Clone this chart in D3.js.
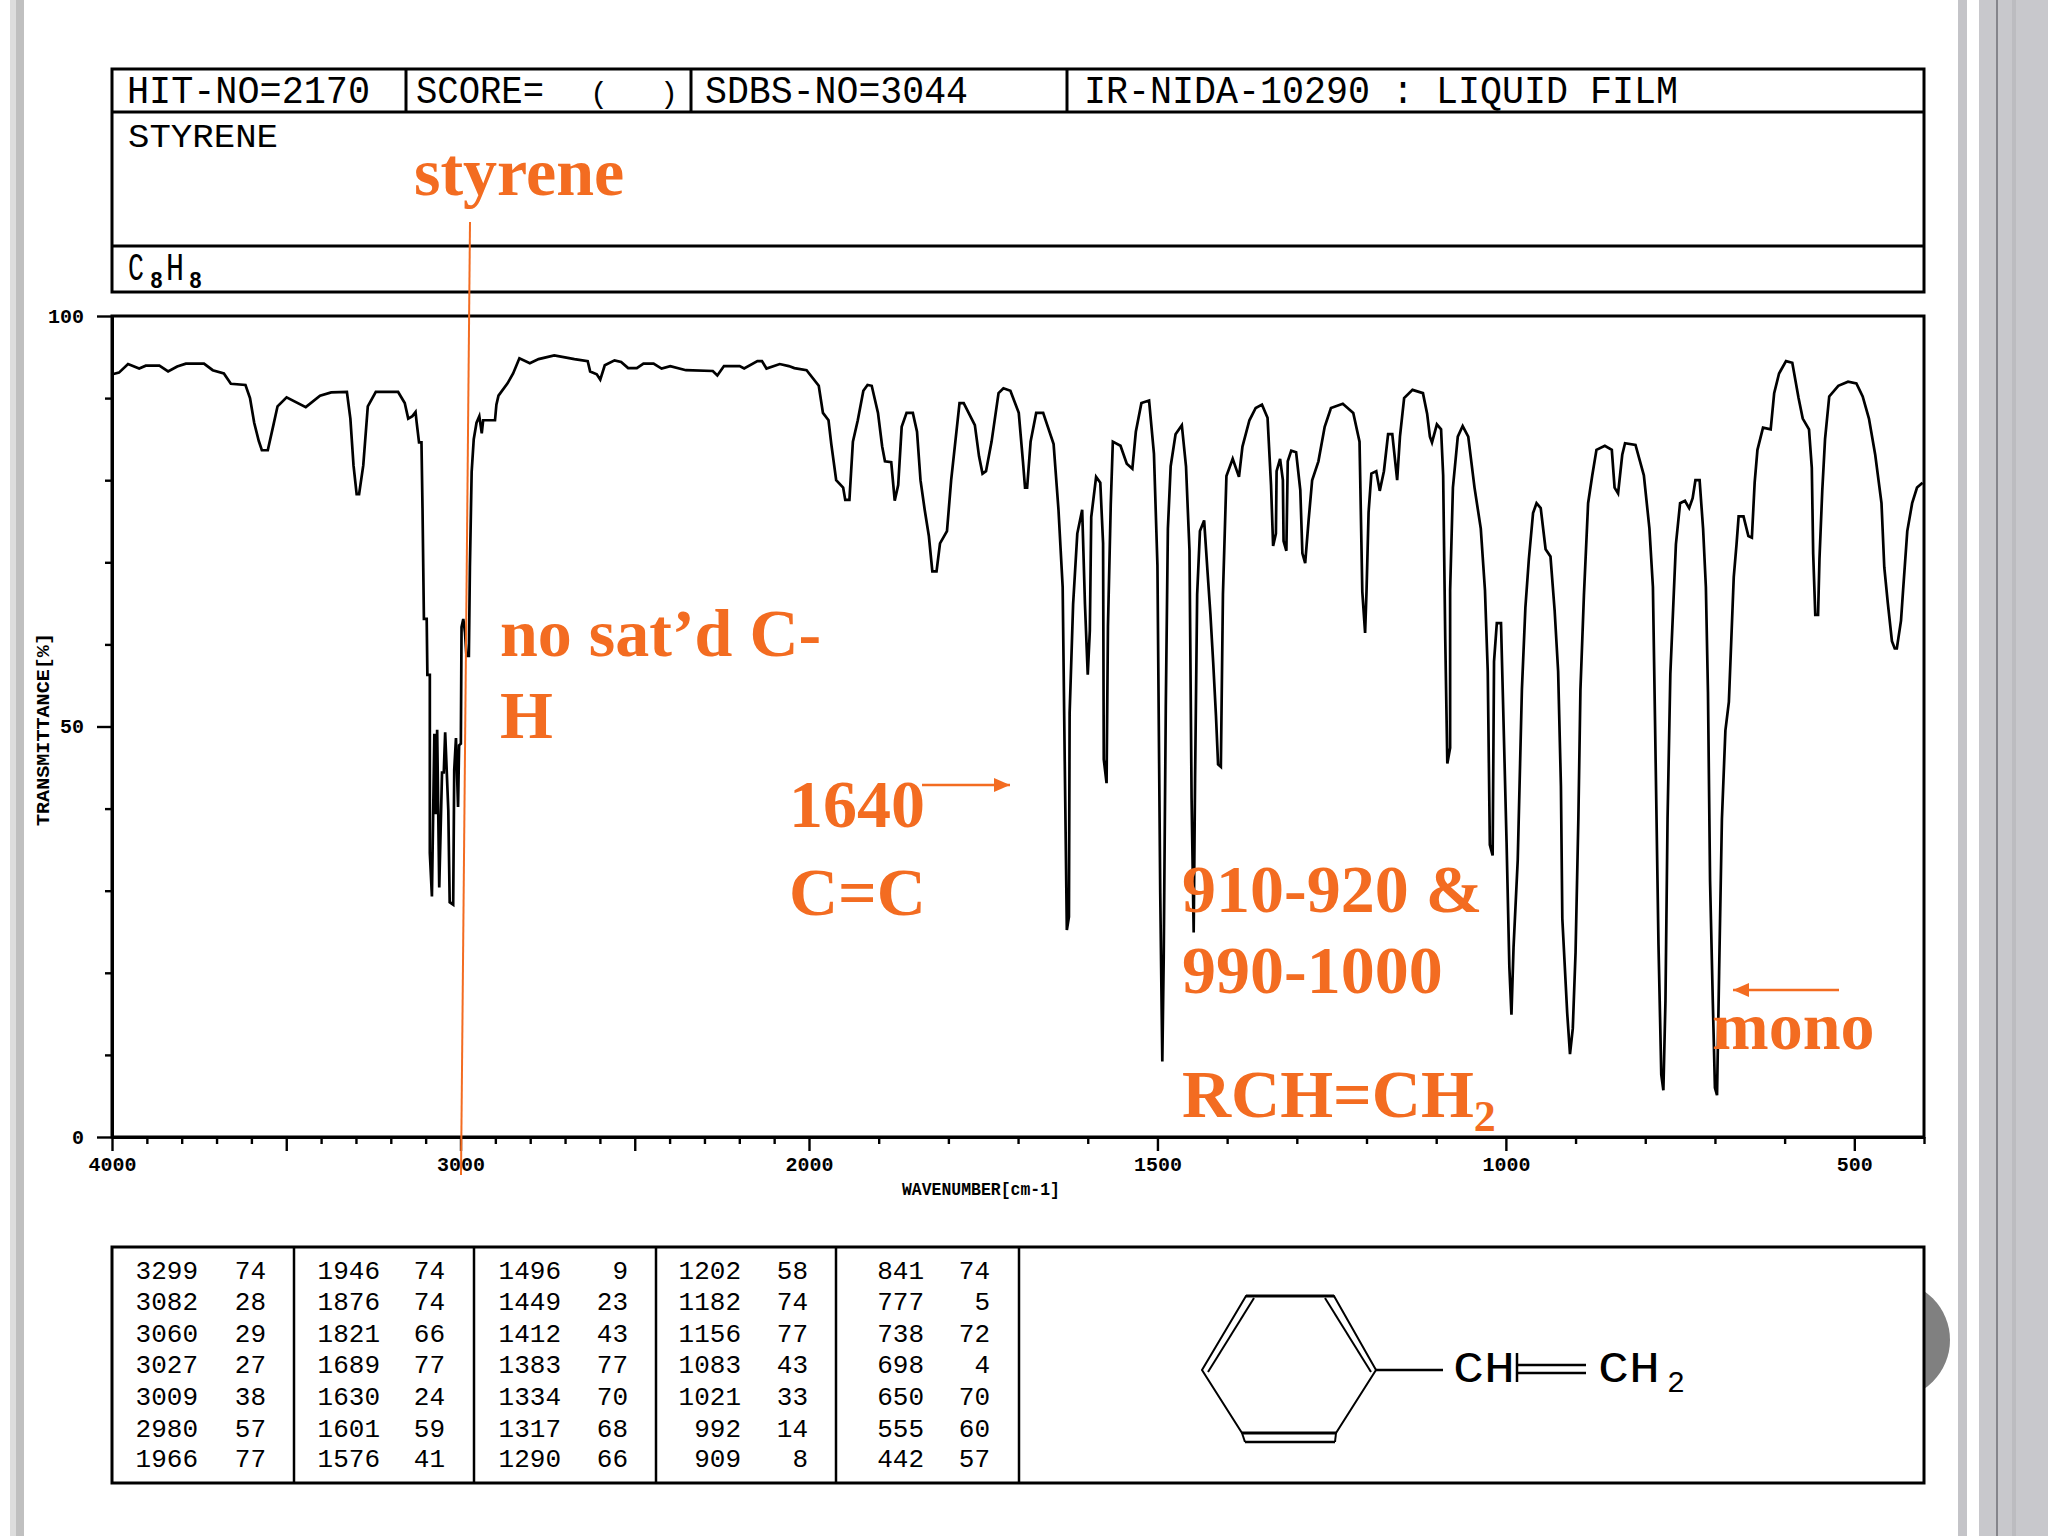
<!DOCTYPE html>
<html><head><meta charset="utf-8">
<script src="https://cdn.jsdelivr.net/npm/d3@7"></script>
<style>html,body{margin:0;padding:0;background:#fff}svg{display:block}
.mono{font-family:"Liberation Mono",monospace;fill:#000}
.note{font-family:"Liberation Serif",serif;font-weight:700;fill:#F36C21;font-size:68px}
</style></head><body><svg id="c" width="2048" height="1536"></svg>
<script>
const wavenumbers=[3999,3980,3954,3922,3903,3864,3839,3813,3788,3736,3711,3679,3659,3617,3604,3592,3579,3570,3553,3538,3525,3499,3444,3403,3371,3326,3316,3307,3298,3291,3279,3266,3243,3179,3160,3150,3138,3129,3126,3119,3112,3109,3105,3097,3095,3088,3088,3082,3075,3071,3067,3061,3053,3048,3044,3035,3031,3021,3018,3013,3007,3004,2999,2997,2992,2987,2983,2976,2973,2968,2962,2954,2946,2939,2935,2901,2897,2891,2865,2849,2831,2801,2776,2731,2673,2635,2628,2609,2599,2586,2558,2539,2519,2494,2475,2446,2423,2398,2353,2276,2263,2244,2199,2186,2148,2135,2122,2084,2058,2042,2007,1986,1980,1972,1968,1961,1951,1948,1942,1937,1930,1922,1916,1910,1901,1895,1891,1882,1877,1872,1867,1860,1851,1845,1840,1834,1828,1823,1817,1812,1802,1796,1790,1784,1778,1762,1756,1751,1746,1738,1728,1721,1711,1699,1693,1690,1687,1682,1674,1664,1649,1642,1636,1633,1630,1627,1626,1621,1615,1608,1604,1600,1597,1595,1588,1582,1578,1577,1573,1571,1567,1564,1553,1544,1536,1531,1523,1512,1505,1500,1496,1493,1491,1488,1485,1481,1474,1465,1459,1454,1451,1448,1446,1443,1439,1433,1428,1424,1420,1416,1413,1409,1406,1401,1392,1383,1378,1368,1359,1350,1342,1337,1334,1330,1329,1324,1320,1319,1315,1313,1308,1301,1295,1292,1288,1283,1278,1269,1260,1251,1234,1219,1210,1206,1202,1200,1197,1193,1186,1181,1175,1169,1163,1156,1152,1146,1134,1119,1113,1109,1106,1099,1093,1090,1087,1084,1080,1080,1076,1069,1062,1054,1045,1036,1030,1026,1023,1019,1017,1013,1007,1004,999,995,992,989,983,977,972,967,961,956,950,943,936,930,925,921,919,912,908,904,900,896,893,888,882,876,870,858,848,844,839,833,829,814,802,794,789,786,781,777,774,771,768,764,759,756,750,743,737,732,728,722,717,713,710,707,703,700,697,694,690,685,680,676,673,669,666,659,652,647,643,639,631,620,615,608,598,589,580,574,565,561,559,556,552,550,546,542,536,523,509,497,488,479,470,461,457,452,446,442,439,433,430,424,417,410,402];
const transmittance=[92.9,93.1,94.15,93.6,93.95,93.95,93.25,93.85,94.2,94.2,93.4,93,91.75,91.6,90,87,84.8,83.65,83.65,86.5,89,90.1,88.9,90.3,90.7,90.75,87.5,81.8,78.3,78.3,81.8,89,90.75,90.75,89.4,87.5,87.8,88.3,87.1,84.6,84.6,76.6,63.1,63.1,56.3,56.3,34.6,29.3,49.1,39.3,49.6,30.4,44.4,44.4,49.3,39.8,28.6,28.3,44.7,48.6,40.2,47.7,47.9,62.1,63.1,61.4,58.6,58.6,69.4,81,85,87,87.8,85.7,87.3,87.3,89.2,90.3,91.8,93,94.85,94.25,94.75,95.2,94.75,94.5,93.25,92.9,92.25,94,94.6,94.4,93.65,93.65,94.2,94.2,93.6,93.9,93.4,93.3,92.75,93.9,93.9,93.6,94.5,94.5,93.6,94.15,93.9,93.65,93.4,91.5,88.2,87.3,84.4,80,79.1,77.6,77.6,84.7,87.3,90.9,91.6,91.5,88.2,84.1,82.3,82.2,77.5,79.4,86.5,88.2,88.2,85.9,80,76.4,73.2,68.9,68.9,72.3,73.8,80,84.7,89.4,89.4,86.7,82.9,80.8,81.1,84.7,90.6,91.2,90.9,88.2,82.3,79.1,79.1,84.7,88.2,88.2,84.4,76.4,67,45.7,25.2,26.8,51.6,64.9,73.5,76.4,64.9,56.3,61.7,75.5,80.4,79.7,72.3,46,43.1,62.2,77,84.7,84.2,82,81.4,85.9,89.4,89.7,83.2,69.6,29.8,9.2,21.8,52.5,74.1,81.7,85.6,86.7,81.7,71.4,41.3,24.9,43.6,66.1,73.8,75.1,68.7,63.7,57.8,51.3,45.4,45.1,66.1,80.5,82.6,80.4,84.1,87.3,88.8,89.2,87.6,79.4,72,73.5,81.1,82.6,80,72.6,71.4,82.3,83.6,83.4,78.8,71.1,69.9,75.2,80,82.3,86.5,88.8,89.3,88.2,84.7,66.4,61.4,66.4,76.1,80.8,81.1,78.7,81.1,85.6,85.6,80,85.3,90,91,90.6,88.1,85.3,84.6,86.8,86.2,80.6,60.7,45.5,47.4,66.6,79.1,85.3,86.6,85.3,79.1,74.1,66.6,56.7,35.6,34.3,57.9,62.6,62.6,52.7,35.9,20.7,14.9,23.1,33.7,54.5,64.5,70.4,76,77.2,76.6,71.6,70.7,64.1,56.7,42.7,26.6,15.1,10.1,13.2,22.5,38.7,54.5,66,77.2,80.6,83.7,84.2,83.7,79.1,78.4,83.1,84.5,84.3,80.6,74.1,67,50.8,23.4,7.6,5.7,16.6,38.7,56.4,66.3,72.2,77.2,77.5,76.6,77.8,80,80,74.1,67,54.2,31.2,16.3,6,5.1,20.1,38.7,49.5,53,61.7,68.2,72.2,75.6,75.6,73.2,73,79.7,83.7,86.4,86.2,90.6,93,94.5,94.3,90,87.5,86.2,81.5,71,63.6,63.6,70.4,78.7,85,90.2,91.5,92,91.8,90.2,87.5,83.1,77.2,69.4,65.1,60.4,59.5,59.5,62.9,66.6,73.8,77.2,79.1,79.7];
const xMajor=[4000,3500,3000,2500,2000,1500,1000,500];
const xLabels=[4000,3000,2000,1500,1000,500];
const yTicks=[0,10,20,30,40,50,60,70,80,90,100];
const yLabels=[0,50,100];
const peakWaves=[
 ["3299","3082","3060","3027","3009","2980","1966"],
 ["1946","1876","1821","1689","1630","1601","1576"],
 ["1496","1449","1412","1383","1334","1317","1290"],
 ["1202","1182","1156","1083","1021","992","909"],
 ["841","777","738","698","650","555","442"]];
const peakValues=[
 ["74","28","29","27","38","57","77"],
 ["74","74","66","77","24","59","41"],
 ["9","23","43","77","70","68","66"],
 ["58","74","77","43","33","14","8"],
 ["74","5","72","4","70","60","57"]];

const svg=d3.select("#c");
const INK="#000",ORANGE="#F36C21";
const L=112,R=1924,T=316,B=1137;
const x=d3.scaleLinear().domain([4000,2000,400]).range([L,809,R]);
const y=d3.scaleLinear().domain([0,100]).range([B,T]);

function rect(a,b,c,d,f,s,w){return svg.append("rect").attr("x",a).attr("y",b).attr("width",c-a).attr("height",d-b).attr("fill",f).attr("stroke",s||"none").attr("stroke-width",w||0);}
function seg(a,b,c,d,s,w){return svg.append("line").attr("x1",a).attr("y1",b).attr("x2",c).attr("y2",d).attr("stroke",s||INK).attr("stroke-width",w||3);}
function mono(t,a,base,len,size,weight){const e=svg.append("text").attr("class","mono").attr("x",a).attr("y",base).attr("font-size",size).text(t);
 if(len)e.attr("textLength",len).attr("lengthAdjust","spacingAndGlyphs"); if(weight)e.attr("font-weight",weight); return e;}

// slide frame
rect(10,0,16,1536,"#dddddd");rect(16,0,24,1536,"#c0c0c0");
rect(1958,0,1967,1536,"#c4c4c8");rect(1979,0,2048,1536,"#c8c8cc");
rect(1996,0,1998,1536,"#85858b");rect(2012,0,2016,1536,"#bcbcc0");
svg.append("circle").attr("cx",1891).attr("cy",1340).attr("r",59).attr("fill","#808080");

// header box
rect(112,69,1924,292,"#fff",INK,3);
seg(112,112,1924,112);seg(112,246,1924,246);
seg(406,69,406,112);seg(691,69,691,112);seg(1067,69,1067,112);
mono("HIT-NO=2170",127,103,243,38);
mono("SCORE=",416,103,128,38);mono("(",590,103,null,30);mono(")",660,103,null,30);
mono("SDBS-NO=3044",705,103,263,38);
mono("IR-NIDA-10290 : LIQUID FILM",1084,103,594,38);
mono("STYRENE",128,147,150,34);
mono("C",128,280,16,38);mono("8",150,288,13,24,700);mono("H",166,280,18,38);mono("8",189,288,13,24,700);

// plot
rect(L,T,R,B,"#fff",INK,3);
const tickRow=svg.append("g").attr("transform",`translate(0,${B})`);
tickRow.call(d3.axisBottom(x).tickValues(d3.range(4000,399,-100)).tickSize(7).tickSizeOuter(0)
  .tickFormat(d=>xLabels.includes(d)?d:""));
tickRow.select(".domain").attr("stroke-width",3);
tickRow.selectAll(".tick line").attr("stroke-width",2.4).attr("y2",d=>xMajor.includes(d)?14:7);
tickRow.selectAll(".tick text").attr("y",20).attr("class","mono").attr("font-size",20).attr("font-weight",700).attr("font-family",'"Liberation Mono",monospace').attr("fill",INK);
const yRow=svg.append("g").attr("transform",`translate(${L},0)`);
yRow.call(d3.axisLeft(y).tickValues(yTicks).tickSize(7).tickSizeOuter(0).tickFormat(d=>yLabels.includes(d)?d:""));
yRow.select(".domain").attr("stroke-width",3);
yRow.selectAll(".tick line").attr("stroke-width",2.4).attr("x2",d=>yLabels.includes(d)?-15:-7);
yRow.selectAll(".tick text").attr("x",-28).attr("font-size",20).attr("font-weight",700).attr("font-family",'"Liberation Mono",monospace').attr("fill",INK);
mono("WAVENUMBER[cm-1]",902,1195,158,19,700);
svg.append("g").attr("transform","translate(49,826) rotate(-90)").append("text").attr("class","mono")
  .attr("font-size",19).attr("font-weight",700).attr("textLength",193).attr("lengthAdjust","spacingAndGlyphs").text("TRANSMITTANCE[%]");

const line=d3.line().x((d,i)=>x(wavenumbers[i])).y(d=>y(d));
svg.append("path").datum(transmittance).attr("d",line).attr("fill","none").attr("stroke",INK).attr("stroke-width",2.7).attr("stroke-linejoin","miter");

// peak table
rect(112,1247,1924,1483,"#fff",INK,3);
[294,474,656,836,1019].forEach(a=>seg(a,1247,a,1483,INK,2.5));
const waveRight=[198,380,561,741,924],valRight=[266,445,628,808,990];
const rowY=[1279,1310,1342,1373,1405,1437,1467];
peakWaves.forEach((col,c)=>col.forEach((t,r)=>{
  mono(t,waveRight[c],rowY[r],null,26).attr("text-anchor","end");
  mono(peakValues[c][r],valRight[c],rowY[r],null,26).attr("text-anchor","end");
}));

// structure
const ring=[[1246,1296],[1334,1296],[1376,1370],[1336,1433],[1242,1433],[1202,1370]];
svg.append("polygon").attr("points",ring.join(" ")).attr("fill","none").attr("stroke",INK).attr("stroke-width",2);
seg(1254,1298,1208,1372,INK,2);seg(1325,1298,1371,1372,INK,2);
seg(1245,1442,1335,1442,INK,2.5);seg(1242,1433,1245,1442,INK,2);seg(1336,1433,1335,1442,INK,2);seg(1242,1433,1336,1433,INK,3);
seg(1246,1296,1334,1296,INK,3);
seg(1376,1370,1443,1370,INK,2.5);
seg(1517,1365,1586,1365,INK,2.5);seg(1517,1373,1586,1373,INK,2.5);seg(1517,1353,1517,1382,INK,2.5);
mono("CH",1453,1382,62,44);mono("CH",1598,1382,62,44);mono("2",1667,1392,18,30);

// annotations
function note(t,a,base){return svg.append("text").attr("class","note").attr("x",a).attr("y",base).text(t);}
seg(470,222,461,1175,ORANGE,2);
note("styrene",414,195);
note("no sat\u2019d C-",500,656);note("H",500,738);
note("1640",789,827);note("C=C",789,915);
note("910-920 &",1182,912);note("990-1000",1182,993);
const rch=note("RCH=CH",1182,1117);
rch.append("tspan").attr("font-size",44).attr("dy",14).text("2");
note("mono",1712,1049);
function arrow(a,b,c){seg(a,b,c,b,ORANGE,2.5);const d=c>a?1:-1;
  svg.append("polygon").attr("points",`${c},${b} ${c-16*d},${b-7} ${c-16*d},${b+7}`).attr("fill",ORANGE);}
arrow(922,785,1010);arrow(1839,990,1733);
</script></body></html>
